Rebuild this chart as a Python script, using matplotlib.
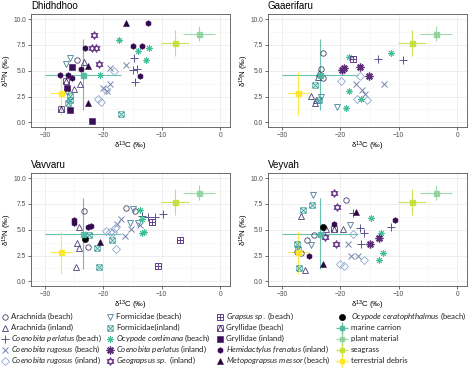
import numpy as np
import matplotlib.pyplot as plt
from matplotlib.path import Path

plt.rcParams['font.family'] = ['Liberation Sans', 'DejaVu Sans']
plt.rcParams['mathtext.fontset'] = 'custom'
plt.rcParams['mathtext.rm'] = 'Liberation Sans'
plt.rcParams['mathtext.it'] = 'Lato:italic'

# ---- consumers: (group, d13C, d15N) per island ----
dhidhdhoo = [
    ("MM", -16.1, 9.6), ("HF", -12.4, 9.6), ("GI", -21.6, 8.5), ("HF", -23.1, 7.2),
    ("GI", -21.9, 7.2), ("GI", -21.3, 7.2), ("HF", -14.9, 7.4), ("HF", -13.4, 7.4),
    ("OCB", -17.3, 8.0), ("OCB", -12.2, 7.2), ("OCB", -14.0, 6.9), ("OCB", -12.7, 6.0),
    ("CPB", -14.7, 6.2), ("CPB", -14.9, 5.1), ("CPB", -14.3, 5.2), ("CPB", -14.5, 3.9),
    ("HF", -13.7, 4.5), ("CRB", -16.1, 5.6), ("CRB", -18.9, 5.3), ("CRB", -18.9, 3.75),
    ("CRB", -20.0, 3.3), ("CRB", -19.3, 3.05), ("CRI", -18.1, 5.0), ("CRI", -19.5, 3.1),
    ("CRI", -20.9, 2.3), ("CRI", -20.4, 2.0), ("GI", -20.8, 5.7), ("OCB", -20.5, 4.6),
    ("MM", -22.6, 5.5), ("MM", -22.6, 1.9), ("GYI", -22.0, 0.15), ("FI", -16.9, 0.8),
    ("HF", -27.5, 4.55), ("HF", -26.0, 4.55), ("HF", -25.4, 4.3), ("GYI", -25.4, 5.35),
    ("HF", -23.9, 5.2), ("FB", -25.7, 6.25), ("FB", -26.4, 5.7), ("AB", -24.5, 6.0),
    ("AI", -23.3, 5.85), ("AI", -24.0, 3.75), ("AI", -25.1, 3.2), ("GYB", -26.4, 4.05),
    ("GYI", -26.3, 3.35), ("FI", -25.8, 2.2), ("FI", -26.0, 1.85), ("FI", -25.7, 2.6),
    ("GYI", -25.8, 1.2), ("GYB", -27.2, 1.3), ("FB", -26.2, 2.9),
]
gaaerifaru = [
    ("AB", -23.0, 6.7), ("AB", -23.4, 5.2), ("AI", -23.6, 4.8), ("AI", -23.8, 4.4),
    ("AB", -23.0, 4.3), ("FI", -24.4, 3.6), ("AI", -25.0, 2.6), ("AI", -24.1, 2.2),
    ("AI", -24.4, 1.9), ("FB", -23.3, 2.5), ("FI", -23.6, 2.2), ("CRI", -19.9, 4.0),
    ("FB", -20.5, 1.5), ("OCB", -19.1, 1.35), ("OCB", -18.6, 3.0), ("CPI", -19.7, 5.1),
    ("CPI", -19.4, 5.3), ("CPI", -16.6, 5.4), ("CPI", -15.1, 4.5), ("OCB", -18.5, 6.3),
    ("GRB", -17.9, 6.15), ("CRI", -16.6, 4.5), ("CRB", -17.3, 3.75), ("CRB", -16.3, 3.1),
    ("CRB", -15.7, 2.7), ("CRB", -12.6, 3.75), ("CRI", -17.1, 2.3), ("CRI", -15.4, 2.2),
    ("OCB", -16.5, 2.3), ("CPB", -13.5, 6.1), ("CPB", -9.3, 6.0), ("OCB", -11.4, 6.7),
]
vavvaru = [
    ("HF", -25.0, 5.95), ("HF", -25.0, 5.7), ("AB", -23.4, 6.85), ("AI", -24.2, 5.25),
    ("HF", -22.7, 5.25), ("HF", -22.2, 5.4), ("OCE", -23.1, 4.1), ("AI", -24.5, 3.7),
    ("AI", -24.2, 3.2), ("AB", -22.7, 3.35), ("FI", -21.1, 3.2), ("FI", -22.4, 4.5),
    ("MM", -20.5, 3.8), ("AI", -24.7, 1.35), ("FI", -20.7, 1.35), ("CRI", -19.5, 4.9),
    ("CRI", -18.9, 4.8), ("CRI", -18.3, 4.75), ("CRI", -18.0, 5.15), ("FI", -18.6, 4.0),
    ("CRI", -17.8, 3.15), ("CRB", -17.6, 5.6), ("CRB", -17.0, 6.0), ("CRB", -16.3, 4.4),
    ("CRB", -15.3, 5.05), ("AB", -16.1, 7.1), ("AB", -14.6, 6.8), ("FB", -14.9, 7.05),
    ("FB", -15.4, 5.7), ("FB", -14.0, 5.7), ("CPB", -13.3, 6.3), ("CPB", -12.3, 6.2),
    ("CPB", -11.1, 6.2), ("CPB", -9.7, 6.5), ("CRB", -13.7, 5.5), ("OCB", -13.8, 6.9),
    ("OCB", -13.3, 6.0), ("OCB", -13.0, 4.75), ("OCB", -13.4, 4.7), ("GRB", -11.7, 5.8),
    ("GRB", -6.9, 4.0), ("GRB", -10.7, 1.45),
]
veyvah = [
    ("FB", -24.7, 8.4), ("FI", -24.9, 7.4), ("FI", -26.4, 6.9), ("AI", -26.7, 6.3),
    ("GI", -21.1, 8.55), ("GI", -20.5, 7.2), ("AB", -19.0, 7.9), ("CPB", -17.8, 6.6),
    ("MM", -17.3, 6.75), ("HF", -10.7, 5.9), ("CPB", -11.3, 5.3), ("OCB", -14.7, 6.1),
    ("OCB", -13.1, 4.7), ("OCB", -12.7, 2.7), ("OCB", -13.3, 2.1), ("HF", -21.1, 5.6),
    ("GYB", -21.1, 5.1), ("FB", -18.3, 5.5), ("CPB", -16.7, 5.2), ("CPB", -15.9, 4.7),
    ("CRI", -17.8, 4.6), ("OCE", -23.0, 5.25), ("AI", -22.4, 5.1), ("AI", -19.6, 5.1),
    ("GI", -22.7, 4.3), ("GI", -20.7, 3.65), ("CPB", -16.5, 3.6), ("CPI", -14.9, 3.65),
    ("CPI", -13.4, 4.2), ("CRB", -18.7, 3.65), ("CRB", -17.0, 2.5), ("CRB", -18.1, 2.5),
    ("CRI", -20.0, 1.7), ("CRI", -19.3, 1.45), ("CRI", -16.0, 2.1), ("AB", -25.7, 4.0),
    ("FB", -25.0, 3.55), ("AB", -24.5, 4.5), ("HF", -25.4, 2.5), ("FI", -27.4, 3.6),
    ("FI", -27.3, 3.15), ("FI", -27.1, 1.25), ("AB", -27.5, 2.85), ("AB", -26.8, 2.75),
    ("AI", -26.0, 1.1), ("MM", -23.0, 1.65),
]
islands = ["Dhidhdhoo", "Gaaerifaru", "Vavvaru", "Veyvah"]
island_data = [dhidhdhoo, gaaerifaru, vavvaru, veyvah]

# ---- food sources (mean +- sd), same on every island ----
src_names = ["marine carrion", "plant material", "seagrass", "terrestrial debris"]
src_c = [-23.5, -3.6, -7.7, -27.2]
src_n = [4.6, 8.6, 7.7, 2.8]
src_c_sd = [6.5, 2.7, 2.4, 1.9]
src_n_sd = [3.45, 0.75, 1.25, 2.05]
src_colors = ["#4fb9a0", "#8fd39c", "#c4df3a", "#fde725"]

# ---- consumer groups ----
groups = ["AB", "AI", "CPB", "CRB", "CRI", "FB", "FI", "OCB", "CPI", "GI",
          "GRB", "GYB", "GYI", "HF", "MM", "OCE"]
group_labels = [
    "Arachnida (beach)", "Arachnida (inland)",
    r"$\mathit{Coenobita\ perlatus}$ (beach)", r"$\mathit{Coenobita\ rugosus}$ (beach)",
    r"$\mathit{Coenobita\ rugosus}$ (inland)", "Formicidae (beach)", "Formicidae(inland)",
    r"$\mathit{Ocypode\ cordimana}$ (beach)", r"$\mathit{Coenobita\ perlatus}$ (inland)",
    r"$\mathit{Geograpsus\ sp.}$ (inland)", r"$\mathit{Grapsus\ sp.}$ (beach)",
    "Gryllidae (beach)", "Gryllidae (inland)", r"$\mathit{Hemidactylus\ frenatus}$ (inland)",
    r"$\mathit{Metopograpsus\ messor}$ (beach)", r"$\mathit{Ocypode\ ceratophthalmus}$ (beach)",
]


def open_path(segs):
    verts, codes = [], []
    for s in segs:
        verts += s
        codes += [Path.MOVETO] + [Path.LINETO] * (len(s) - 1)
    return Path(verts, codes)


SQ = [(-1, -1), (1, -1), (1, 1), (-1, 1), (-1, -1)]
sq_x = open_path([SQ, [(-1, -1), (1, 1)], [(-1, 1), (1, -1)]])
sq_plus = open_path([SQ, [(0, -1), (0, 1)], [(-1, 0), (1, 0)]])
sq_tri = open_path([SQ, [(-1, -1), (0, 1), (1, -1)]])
star_david = open_path([[(0, 1), (-0.866, -0.5), (0.866, -0.5), (0, 1)],
                        [(0, -1), (-0.866, 0.5), (0.866, 0.5), (0, -1)]])

# marker layers: (marker, size, filled, edge width)
styles = {
    "AB": ("#46406a", [("o", 3.9, False, 0.6)]),
    "AI": ("#4a3f78", [("^", 4.6, False, 0.6)]),
    "CPB": ("#5a5490", [("+", 5.4, False, 0.7)]),
    "CRB": ("#7483b0", [("x", 4.6, False, 0.7)]),
    "CRI": ("#8fa8d0", [("D", 3.9, False, 0.6)]),
    "FB": ("#4f809c", [("v", 4.6, False, 0.6)]),
    "FI": ("#3e9d98", [(sq_x, 3.9, False, 0.6)]),
    "OCB": ("#3fbf98", [((8, 2, 0), 4.8, False, 0.7)]),
    "CPI": ("#5b2c78", [("o", 2.8, True, 0.5), ((8, 2, 0), 5.6, False, 1.0)]),
    "GI": ("#6e3f8c", [(star_david, 5.6, False, 0.7)]),
    "GRB": ("#663c8c", [(sq_plus, 4.1, False, 0.7)]),
    "GYB": ("#4b2a70", [(sq_tri, 4.1, False, 0.6)]),
    "GYI": ("#3b0f5c", [("s", 3.9, True, 0.4)]),
    "HF": ("#35094f", [("h", 4.1, True, 0.4)]),
    "MM": ("#2a0640", [("^", 4.6, True, 0.4)]),
    "OCE": ("#000000", [("o", 4.5, True, 0.4)]),
}


def draw_marker(ax, xs, ys, code, zorder=3):
    color, layers = styles[code]
    for mk, ms, filled, mew in layers:
        ax.plot(xs, ys, ls="none", marker=mk, ms=ms, mew=mew, mec=color,
                mfc=color if filled else "none", zorder=zorder)


fig = plt.figure(figsize=(4.74, 3.81), dpi=100)
W, H = 474, 381
# panel boxes in pixels: left, top
boxes = [(31, 14), (268, 14), (31, 173), (268, 173)]
pw, ph = 199, 113

for name, data, (lx, ty) in zip(islands, island_data, boxes):
    ax = fig.add_axes([lx / W, (H - ty - ph) / H, pw / W, ph / H])
    # sources
    for i in range(len(src_names)):
        ax.errorbar(src_c[i], src_n[i], xerr=src_c_sd[i], yerr=src_n_sd[i], fmt="none",
                    ecolor=src_colors[i], elinewidth=0.8, capsize=0, alpha=0.85, zorder=2)
        ax.plot(src_c[i], src_n[i], ls="none", marker="s", ms=3.6, color=src_colors[i],
                alpha=0.9, zorder=4)
    # consumers
    for code in groups:
        pts = [(c, n) for g, c, n in data if g == code]
        if pts:
            xs, ys = zip(*pts)
            draw_marker(ax, xs, ys, code)

    ax.set_xlim(-32.4, 1.7)
    ax.set_ylim(-0.45, 10.5)
    ax.set_xticks([-30, -20, -10, 0])
    ax.set_yticks([0, 2.5, 5, 7.5, 10])
    ax.set_yticklabels(["0.0", "2.5", "5.0", "7.5", "10.0"])
    ax.set_xticks([-25, -15, -5], minor=True)
    ax.set_yticks([1.25, 3.75, 6.25, 8.75], minor=True)
    ax.grid(True, which="major", color="#ebebeb", lw=0.6, zorder=0)
    ax.grid(True, which="minor", color="#f3f3f3", lw=0.4, zorder=0)
    ax.set_axisbelow(True)
    ax.tick_params(which="major", length=2, width=0.5, color="#333333",
                   labelsize=4.8, labelcolor="#4d4d4d", pad=1.5)
    ax.tick_params(which="minor", length=0)
    for sp in ax.spines.values():
        sp.set_color("#555555")
        sp.set_linewidth(0.6)
    ax.set_title(name, loc="left", fontsize=7, pad=3.5)
    ax.set_xlabel("δ$^{13}$C (‰)", fontsize=5.6, labelpad=0.5)
    ax.set_ylabel("δ$^{15}$N (‰)", fontsize=5.6)
    ax.yaxis.set_label_coords(-0.085, 0.5)

# ---- legend drawn in pixel space ----
lg = fig.add_axes([0, 0, 1, 1])
lg.set_xlim(0, W)
lg.set_ylim(H, 0)
lg.axis("off")
col_mx = [5, 110, 220, 342]
col_tx = [11, 116, 226, 351]
row_y = [316.5, 327.5, 338.5, 349.5, 360.5]
entries = [(g, lab) for g, lab in zip(groups, group_labels)] + \
          [("src%d" % i, nm) for i, nm in enumerate(src_names)]
for k, (code, lab) in enumerate(entries):
    col, row = divmod(k, 5)
    x, y = col_mx[col], row_y[row]
    if code.startswith("src"):
        i = int(code[3:])
        lg.plot(x, y, ls="none", marker="+", ms=8, mew=1.0, color=src_colors[i], alpha=0.85)
        lg.plot(x, y, ls="none", marker="s", ms=3, color=src_colors[i], alpha=0.9)
    else:
        draw_marker(lg, [x], [y], code)
    lg.text(col_tx[col], y, lab, family="Lato", fontsize=5.7, color="#222222",
            va="center", ha="left")

fig.savefig("out.png", dpi=100)
